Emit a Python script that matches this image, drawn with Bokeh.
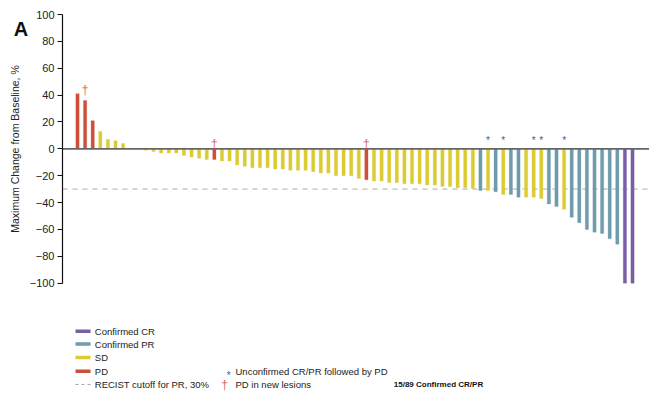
from bokeh.plotting import figure
from bokeh.models import Range1d, FixedTicker, Label, ColumnDataSource
from bokeh.embed import file_html
from bokeh.resources import INLINE
from bokeh.core.properties import value

# ---------------- data ----------------
change = [41, 36, 21, 13, 7, 6, 4, 0, 0,
          -1, -2, -3, -3, -3, -5, -6, -7, -8, -8, -9, -9,
          -12, -13, -14, -14, -14, -15, -15, -16, -16, -16, -17, -18, -18,
          -20, -20, -20, -22, -23, -24, -24, -25, -25, -26, -26, -26, -27, -27,
          -28, -28, -29, -29, -29.5,
          -31, -31, -32, -34, -34, -36, -36, -36, -37, -41, -43, -45,
          -51, -55, -60, -62, -63, -67, -71, -100, -100]
response = ["PD", "PD", "PD", "SD", "SD", "SD", "SD", "SD", "SD",
            "SD", "SD", "SD", "SD", "SD", "SD", "SD", "SD", "SD", "PD", "SD", "SD",
            "SD", "SD", "SD", "SD", "SD", "SD", "SD", "SD", "SD", "SD", "SD", "SD", "SD",
            "SD", "SD", "SD", "SD", "PD", "SD", "SD", "SD", "SD", "SD", "SD", "SD", "SD", "SD",
            "SD", "SD", "SD", "SD", "SD",
            "PR", "SD", "PR", "SD", "PR", "PR", "SD", "SD", "SD", "PR", "PR", "SD",
            "PR", "PR", "PR", "PR", "PR", "PR", "PR", "CR", "CR"]
new_lesion_idx = [1, 18, 38]            # dagger: PD in new lesions
unconfirmed_idx = [54, 56, 60, 61, 64]  # asterisk: unconfirmed CR/PR followed by PD
y_ticks = [-100, -80, -60, -40, -20, 0, 20, 40, 60, 80, 100]
recist_cutoff = -30
legend_labels = ["Confirmed CR", "Confirmed PR", "SD", "PD", "RECIST cutoff for PR, 30%"]
legend_codes = ["CR", "PR", "SD", "PD"]
marker_labels = ["Unconfirmed CR/PR followed by PD", "PD in new lesions"]
summary_text = "15/89 Confirmed CR/PR"

palette = {"CR": "#7a5fa6", "PR": "#6e9cac", "SD": "#dccb34", "PD": "#cd4f3b"}
DAGGER_COLOR = "#d8685a"
STAR_COLOR = "#4856a5"
FONT = "Liberation Sans"

# ---------------- layout constants (canvas pixels) ----------------
W, H = 652, 394
AXIS_PX = 62.0          # y axis line position
LINE_END_PX = 648.5     # right end of the reference lines
FIRST_BAR_PX = 77.0     # centre of first bar slot
SLOT_PX = 7.603         # px per bar slot
TOP_TICK_PX = 14.0      # pixel row of the top tick
UNIT_PX = 1.3435        # px per percent


def xd(px):   # canvas px from left -> data x
    return (px - FIRST_BAR_PX) / SLOT_PX


def yd(py):   # canvas px from top -> data y
    return y_ticks[-1] - (py - TOP_TICK_PX) / UNIT_PX


# ---------------- figure ----------------
xs = list(range(len(change)))
colors = [palette[r] for r in response]
src = ColumnDataSource(dict(x=xs, top=change, color=colors))

p = figure(width=W, height=H, x_range=Range1d(xd(0), xd(W)), y_range=Range1d(yd(H), yd(0)),
           output_backend="svg", toolbar_location=None, x_axis_location=None, min_border=0)
p.grid.visible = False
p.outline_line_color = None

# RECIST cutoff (behind bars) and zero line (above bars)
p.segment(x0=[xd(AXIS_PX)], y0=[recist_cutoff], x1=[xd(LINE_END_PX + 1.5)], y1=[recist_cutoff],
          line_color="#cfcfcf", line_width=1.6, line_dash="5 5")
p.vbar(x="x", top="top", bottom=0, width=0.43, fill_color="color", line_color="color",
       line_alpha=0.35, line_width=0.8, source=src)
p.segment(x0=[xd(AXIS_PX)], y0=[0], x1=[xd(LINE_END_PX)], y1=[0],
          line_color="#666666", line_width=1.6)

dsrc = ColumnDataSource(dict(
    x=list(new_lesion_idx),
    y=[max(change[i], 0) for i in new_lesion_idx],
    off=[-3 if change[i] > 0 else 2 for i in new_lesion_idx],
    t=["\u2020"] * len(new_lesion_idx)))
p.text(x="x", y="y", text="t", y_offset="off", text_font=value(FONT), text_font_size="12px",
       text_color=DAGGER_COLOR, text_align="center", text_baseline="bottom", source=dsrc)

sx = list(unconfirmed_idx)
sy = [max(change[i], 0) for i in unconfirmed_idx]
p.text(x=sx, y=sy, text=["*"] * len(sx), text_font=value(FONT), text_font_size="10px",
       text_color=STAR_COLOR, text_align="center", text_baseline="alphabetic", y_offset=-8)

ax = p.yaxis[0]
ax.fixed_location = xd(AXIS_PX)
ax.ticker = FixedTicker(ticks=y_ticks)
ax.bounds = (y_ticks[0], y_ticks[-1])
ax.axis_label = "Maximum Change from Baseline, %"
ax.axis_label_text_font = FONT
ax.axis_label_text_font_size = "10.5px"
ax.axis_label_text_font_style = "normal"
ax.axis_label_text_color = "#222222"
ax.axis_label_standoff = 6
ax.major_label_text_font = FONT
ax.major_label_text_font_size = "11px"
ax.major_label_text_color = "#222222"
ax.major_label_standoff = 3
ax.major_tick_out = 5
ax.major_tick_in = 0
ax.minor_tick_out = 0
ax.minor_tick_in = 0
ax.axis_line_color = "#111111"
ax.major_tick_line_color = "#111111"
ax.axis_line_width = 1.2

p.add_layout(Label(x=xd(13.3), y=yd(28.3), text="A", text_font=FONT,
                   text_font_size="20px", text_font_style="bold", text_color="#111111",
                   text_baseline="alphabetic"))

# ---------------- legend ----------------
rows = [yd(r) for r in [330.7, 343.5, 357.0, 370.7, 384.0]]
p.rect(x=[xd(82.5)] * 4, y=rows[:4], width=15, height=3.5, width_units="screen",
       height_units="screen", fill_color=[palette[c] for c in legend_codes], line_color=None)
p.segment(x0=[xd(75)], y0=[rows[4]], x1=[xd(90)], y1=[rows[4]],
          line_color="#aaaaaa", line_width=1, line_dash="3 3")
p.text(x=[xd(94.3)] * 5, y=rows, text=legend_labels, text_font=value(FONT),
       text_font_size="9.5px", text_color="#222222", text_baseline="middle")
p.text(x=[xd(228.3)], y=[rows[3]], text=["*"], text_font=value(FONT),
       text_font_size="10px", text_color=STAR_COLOR, text_align="center",
       text_baseline="alphabetic", y_offset=4)
p.text(x=[xd(224)], y=[rows[4]], text=["\u2020"], text_font=value(FONT),
       text_font_size="12px", text_color=DAGGER_COLOR, text_align="center",
       text_baseline="middle")
p.text(x=[xd(235)] * 2, y=rows[3:5], text=marker_labels, text_font=value(FONT),
       text_font_size="9.5px", text_color="#222222", text_baseline="middle")
p.text(x=[xd(393.3)], y=[rows[4]], text=[summary_text], text_font=value(FONT),
       text_font_size="8px", text_font_style="bold", text_color="#111111",
       text_baseline="middle")

open("out.html", "w").write(file_html(p, INLINE))
